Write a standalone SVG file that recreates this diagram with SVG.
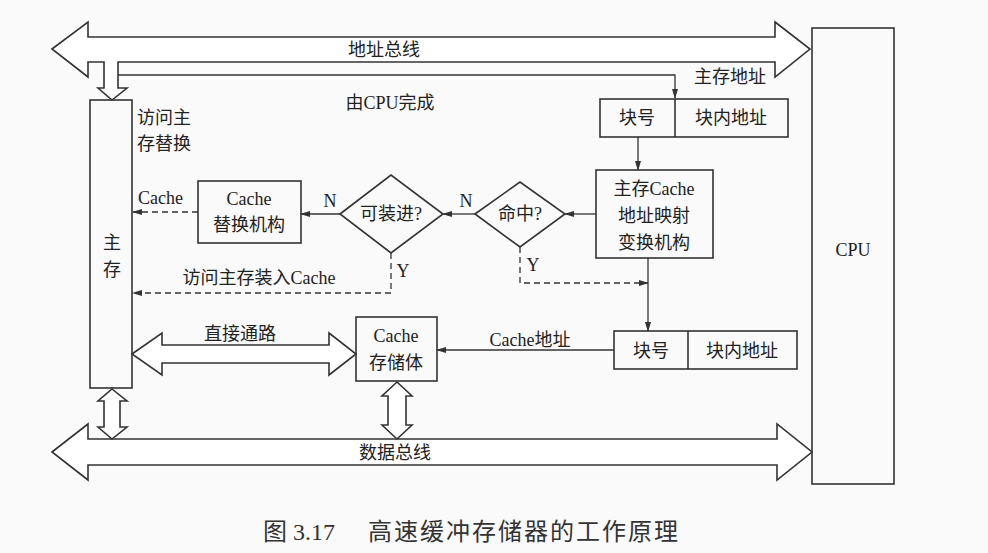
<svg xmlns="http://www.w3.org/2000/svg" width="988" height="553" viewBox="0 0 988 553">
<style>
.s{fill:none;stroke:#333;stroke-width:1.6}
.w{fill:#fff;stroke:#333;stroke-width:1.6}
.l{fill:none;stroke:#333;stroke-width:1.3}
.d{fill:none;stroke:#333;stroke-width:1.3;stroke-dasharray:6 4}
text{font-family:"Liberation Serif","Noto Sans CJK SC",serif;font-size:18px;fill:#222}
.c{text-anchor:middle}
.cap{font-size:24px;fill:#333}
</style>
<defs><marker id="a" markerWidth="10" markerHeight="8" refX="9" refY="4" orient="auto" markerUnits="userSpaceOnUse"><path d="M0,1 L10,4 L0,7 Z" fill="#333"/></marker></defs>
<rect width="988" height="553" fill="#fafafa"/>
<g id="connectors">
<path class="w" d="M52,49 L88,22 L88,37 L775,37 L775,22 L810,49 L775,77 L775,62 L118,62 L118,88 L127,88 L112,100 L98,88 L104,88 L104,62 L88,62 L88,77 Z"/>
<path class="w" d="M52,452 L88,424 L88,439 L777,439 L777,424 L812,452 L777,480 L777,465 L88,465 L88,480 Z"/>
<path class="w" d="M112,389 L127,401 L120,401 L120,427 L127,427 L112,439 L98,427 L104,427 L104,401 L98,401 Z"/>
<path class="w" d="M397,382 L412,396 L406,396 L406,425 L412,425 L397,439 L382,425 L388,425 L388,396 L382,396 Z"/>
<path class="w" d="M132,354 L162,333 L162,345 L329,345 L329,333 L356,354 L329,375 L329,363 L162,363 L162,375 Z"/>
<path class="l" d="M118,75 L675,75 L675,98" marker-end="url(#a)"/>
<path class="l" d="M638,137 L638,170" marker-end="url(#a)"/>
<path class="l" d="M596,214 L565,214" marker-end="url(#a)"/>
<path class="l" d="M475,214 L443,214" marker-end="url(#a)"/>
<path class="l" d="M340,214 L301,214" marker-end="url(#a)"/>
<path class="d" d="M198,212 L133,212" marker-end="url(#a)"/>
<path class="d" d="M391,253 L391,293 L133,293" marker-end="url(#a)"/>
<path class="d" d="M520,247 L520,283 L648,283" marker-end="url(#a)"/>
<path class="l" d="M648,258 L648,331" marker-end="url(#a)"/>
<path class="l" d="M614,350 L437,350" marker-end="url(#a)"/>
</g>
<g id="mem"><rect class="s" x="90" y="100" width="42" height="288"/><text x="112" y="249" class="c">主</text><text x="112" y="276" class="c">存</text></g>
<g id="cpu"><rect class="s" x="812" y="28" width="82" height="456"/><text x="853" y="256" class="c">CPU</text></g>
<g id="addr1"><rect class="s" x="600" y="99" width="188" height="38"/><line class="s" x1="675" y1="99" x2="675" y2="137"/><text x="637" y="124" class="c">块号</text><text x="731" y="124" class="c">块内地址</text></g>
<g id="map"><rect class="s" x="596" y="170" width="117" height="88"/><text x="654" y="195" class="c">主存Cache</text><text x="654" y="222" class="c">地址映射</text><text x="654" y="249" class="c">变换机构</text></g>
<g id="hit"><path class="s" d="M475,214 L520,182 L565,214 L520,247 Z"/><text x="520" y="220" class="c">命中?</text></g>
<g id="canload"><path class="s" d="M340,214 L391,175 L443,214 L391,253 Z"/><text x="391" y="220" class="c">可装进?</text></g>
<g id="replace"><rect class="s" x="198" y="181" width="103" height="62"/><text x="249" y="205" class="c">Cache</text><text x="249" y="231" class="c">替换机构</text></g>
<g id="addr2"><rect class="s" x="614" y="331" width="183" height="38"/><line class="s" x1="688" y1="331" x2="688" y2="369"/><text x="651" y="357" class="c">块号</text><text x="742" y="357" class="c">块内地址</text></g>
<g id="store"><rect class="s" x="356" y="317" width="81" height="64"/><text x="396" y="342" class="c">Cache</text><text x="396" y="369" class="c">存储体</text></g>
<g id="labels">
<text x="384" y="56" class="c">地址总线</text>
<text x="390" y="109" class="c">由CPU完成</text>
<text x="730" y="83" class="c">主存地址</text>
<text x="137" y="124">访问主</text><text x="137" y="150">存替换</text>
<text x="138" y="204">Cache</text>
<text x="330" y="207" class="c">N</text><text x="466" y="207" class="c">N</text>
<text x="403" y="277" class="c">Y</text><text x="533" y="271" class="c">Y</text>
<text x="259" y="284" class="c">访问主存装入Cache</text>
<text x="240" y="340" class="c">直接通路</text>
<text x="530" y="346" class="c">Cache地址</text>
<text x="395" y="459" class="c">数据总线</text>
<text x="263" y="540" class="cap">图 3.17</text>
<text x="368" y="540" class="cap" textLength="310" lengthAdjust="spacing">高速缓冲存储器的工作原理</text>
</g>
</svg>
